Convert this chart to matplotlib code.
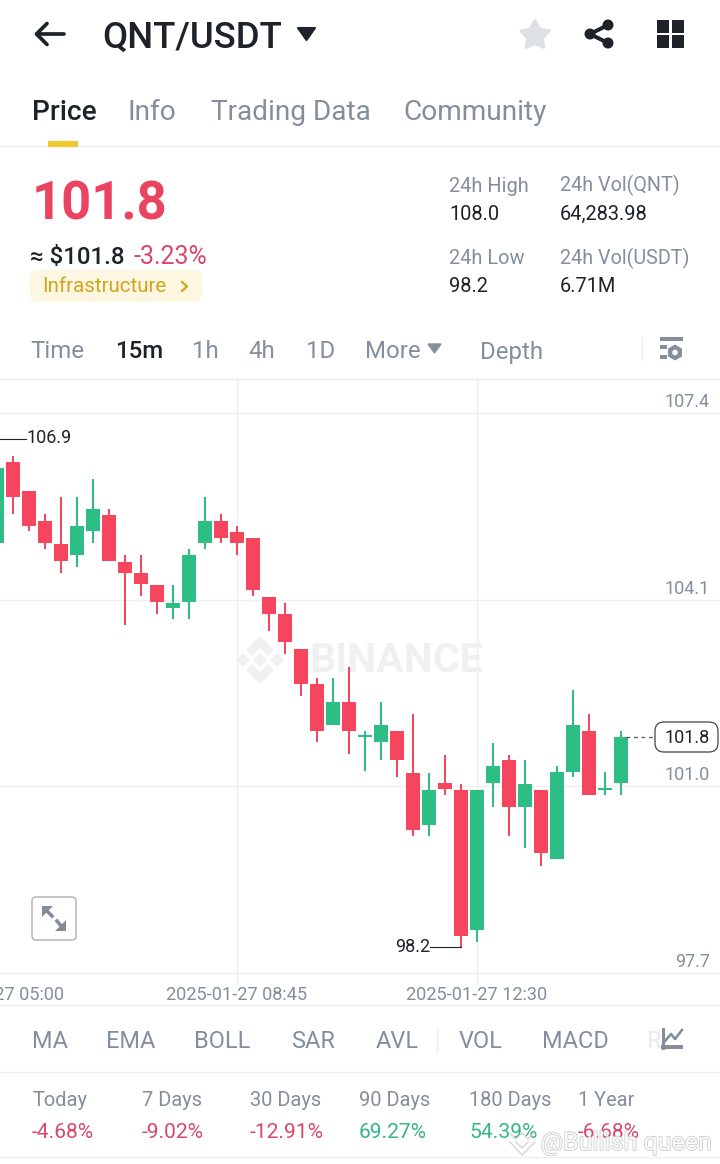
#!/usr/bin/env python3
"""QNT/USDT 15m candlestick screen, rebuilt in matplotlib."""

import matplotlib
matplotlib.use('Agg')
import matplotlib.patheffects as pe
import matplotlib.pyplot as plt
import numpy as np
from matplotlib.patches import Circle, FancyBboxPatch, Polygon, Rectangle, RegularPolygon

plt.rcParams['font.family'] = ['Roboto', 'DejaVu Sans']

# candles, oldest first (the first one is cut by the left edge)
opens = [105.15, 106.55, 106.05, 105.54, 105.13, 104.94, 105.35, 105.64, 104.83, 104.63,
         104.43, 104.03, 104.13, 105.15, 105.54, 105.34, 105.24, 104.22, 103.92, 103.32,
         102.71, 102.01, 102.40, 101.80, 101.70, 101.90, 101.18, 100.28, 100.99, 100.88,
         98.46, 100.99, 101.39, 100.59, 100.88, 99.68, 101.19, 101.90, 100.88, 100.99]
closes = [106.45, 105.95, 105.45, 105.15, 104.84, 105.44, 105.74, 104.84, 104.64, 104.44,
          104.13, 104.12, 104.94, 105.54, 105.24, 105.15, 104.34, 103.93, 103.44, 102.71,
          101.90, 102.40, 101.90, 101.83, 102.00, 101.40, 100.19, 100.88, 100.89, 98.36,
          100.88, 101.29, 100.59, 100.98, 99.78, 101.19, 102.00, 100.79, 100.91, 101.79]
highs = [106.45, 106.66, 106.05, 105.65, 105.95, 105.95, 106.25, 105.74, 104.94, 104.94,
         104.43, 104.43, 105.04, 105.95, 105.65, 105.45, 105.24, 104.22, 104.12, 103.32,
         102.81, 102.81, 103.01, 101.90, 102.40, 101.90, 102.20, 101.18, 101.49, 100.98,
         100.88, 101.69, 101.49, 101.39, 100.88, 101.29, 102.60, 102.20, 101.19, 101.90]
lows = [105.15, 105.65, 105.35, 105.04, 104.64, 104.74, 105.15, 104.84, 103.73, 104.23,
        103.93, 103.83, 103.83, 105.04, 105.15, 104.94, 104.23, 103.63, 103.23, 102.51,
        101.70, 102.01, 101.50, 101.20, 101.40, 101.10, 100.08, 100.08, 100.79, 98.16,
        98.25, 100.58, 100.08, 99.88, 99.57, 99.68, 101.10, 100.79, 100.79, 100.79]

price_ticks = [107.4, 104.1, 101.0, 97.7]
grid_prices = [107.4, 104.17, 100.95, 97.72]
time_positions = [-1, 14, 29]
time_labels = ['2025-01-27 05:00', '2025-01-27 08:45', '2025-01-27 12:30']
last_price = 101.8
high_mark = 106.95
low_mark = 98.16

tabs = ['Price', 'Info', 'Trading Data', 'Community']
intervals = ['Time', '15m', '1h', '4h', '1D', 'More', 'Depth']
indicators = ['MA', 'EMA', 'BOLL', 'SAR', 'AVL', 'VOL', 'MACD']
periods = ['Today', '7 Days', '30 Days', '90 Days', '180 Days', '1 Year']
period_changes = ['-4.68%', '-9.02%', '-12.91%', '69.27%', '54.39%', '-6.68%']

RED = '#F6465D'
GREEN = '#2EBD85'
SOFT_RED = '#D9486A'
SOFT_GREEN = '#35B58A'
DARK = '#1E2329'
GRAY = '#848E9C'
LINE = '#EEEFF2'
WATERMARK = '#EEF0F1'
PX = 0.72  # points per pixel at dpi 100

W, H = 720, 1164
fig = plt.figure(figsize=(W / 100, H / 100), dpi=100, facecolor='white')

# chart axes: y 380..1005 px, one candle every 16 px with candle 0 at x=12.7
ax = fig.add_axes([0, 1 - 1005 / H, 1, (1005 - 380) / H])
ax.set_xlim(-12.7 / 16, (W - 12.7) / 16)
ax.set_ylim(107.4 - (1005 - 413) / 57.8, 107.4 + (413 - 380) / 57.8)
for s in ax.spines.values():
    s.set_visible(False)
ax.set_xticks([])
ax.set_yticks([])

# page overlay in pixel coordinates
ui = fig.add_axes([0, 0, 1, 1], zorder=5)
ui.set_xlim(0, W)
ui.set_ylim(H, 0)
ui.axis('off')
ui.patch.set_alpha(0)


def label(x, y, s, px, color=GRAY, weight='normal', ha='left', **kw):
    ui.text(x, y + 3, s, fontsize=px * PX, color=color, fontweight=weight,
            ha=ha, va='center', **kw)


# grid
for p in grid_prices:
    ax.axhline(p, color=LINE, lw=1, zorder=1)
for t in time_positions[1:]:
    ax.plot([t, t], [97.16 + 0.38, 108], color=LINE, lw=1, zorder=1)

# watermark sits under the candles, so it goes in the chart axes
ax.text(396, 661, 'BINANCE', fontsize=41 * PX, color=WATERMARK, fontweight='bold',
        ha='center', va='center', zorder=2, transform=ui.transData)
for pts in [[(260, 636), (274, 650), (268, 656), (260, 648), (252, 656), (246, 650)],
            [(260, 684), (274, 670), (268, 664), (260, 672), (252, 664), (246, 670)],
            [(260, 653), (267, 660), (260, 667), (253, 660)],
            [(243, 653), (250, 660), (243, 667), (236, 660)],
            [(277, 653), (284, 660), (277, 667), (270, 660)]]:
    ax.add_patch(Polygon(pts, closed=True, fc=WATERMARK, ec='none', zorder=2,
                         transform=ui.transData))

# candles
xs = np.arange(-1, len(opens) - 1)
o = np.array(opens)
c = np.array(closes)
colors = [GREEN if b >= a else RED for a, b in zip(o, c)]
ax.vlines(xs, lows, highs, colors=colors, lw=2 * PX, zorder=3)
ax.bar(xs, np.abs(c - o), bottom=np.minimum(o, c), width=0.86, color=colors, zorder=4)

# price axis labels sit just above their gridlines
for p, g in zip(price_ticks, grid_prices):
    ax.annotate(f'{p:.1f}', xy=(1, g), xycoords=('axes fraction', 'data'),
                xytext=(-10 * PX, 10.5 * PX), textcoords='offset points',
                ha='right', va='center', fontsize=18 * PX, color=GRAY)

# high / low / last markers
ax.plot([-0.8, 0.83], [high_mark, high_mark], color='#222222', lw=0.8, zorder=5)
ax.annotate('106.9', xy=(0.83, high_mark), xytext=(0.5 * PX, 0.5), textcoords='offset points',
            ha='left', va='center', fontsize=18 * PX, color=DARK)
ax.plot([26.1, 28], [low_mark, low_mark], color='#222222', lw=0.8, zorder=5)
ax.annotate('98.2', xy=(26.1, low_mark), xytext=(0, 0), textcoords='offset points',
            ha='right', va='center', fontsize=18 * PX, color=DARK)
ax.plot([38.3, 40], [last_price, last_price], color='#555555', lw=0.9, ls=(0, (3, 3)), zorder=5)
ui.add_patch(FancyBboxPatch((659, 726), 55, 22, boxstyle='round,pad=4,rounding_size=9',
                            fc='white', ec='#444444', lw=0.9))
label(687, 735, f'{last_price:.1f}', 18, color=DARK, ha='center')

# time labels
for t, s in zip(time_positions, time_labels):
    ax.annotate(s, xy=(t, 0), xycoords=('data', 'axes fraction'),
                xytext=(-3.5 * PX if t < 0 else 0, 9.5 * PX), textcoords='offset points',
                ha='center', va='center', fontsize=18.2 * PX, color=GRAY, annotation_clip=False)

# section rules
for y in [146, 379, 1005, 1072, 1157]:
    ui.plot([0, W], [y, y], color=LINE, lw=1)

# header
ui.plot([37, 64], [34, 34], color=DARK, lw=3.7 * PX, solid_capstyle='round')
ui.plot([47, 36.5, 47], [23.5, 34, 44.5], color=DARK, lw=3.7 * PX,
        solid_capstyle='round', solid_joinstyle='round')
label(102, 35, 'QNT/USDT', 36.5, color=DARK, weight='medium')
ui.add_patch(Polygon([(298, 28), (315, 28), (306.5, 40)], closed=True, fc=DARK, ec=DARK, lw=1.5,
                     joinstyle='round'))
star_a = np.deg2rad(np.arange(10) * 36 - 90)
star_r = np.where(np.arange(10) % 2 == 0, 14.5, 7.5)
ui.add_patch(Polygon(np.c_[535 + star_r * np.cos(star_a), 35.5 + star_r * np.sin(star_a)],
                     closed=True, fc='#DDE0E4', ec='#DDE0E4', lw=2.5, joinstyle='round'))
ui.plot([608, 590, 608], [25, 34, 43], color=DARK, lw=4 * PX)
for cx, cy in [(608, 25), (590, 34), (608, 43)]:
    ui.add_patch(Circle((cx, cy), 5.5, fc=DARK, ec='none'))
for gx, gy in [(657, 20), (672, 20), (657, 35), (672, 35)]:
    ui.add_patch(Rectangle((gx, gy), 11.5, 12.5, fc=DARK, ec='none'))

# tabs
for s, x, col in zip(tabs, [32, 127, 211, 403], [DARK, GRAY, GRAY, GRAY]):
    label(x, 109.5, s, 28, color=col, weight='medium' if col == DARK else 'normal')
ui.add_patch(Rectangle((48, 141), 30, 5.5, fc='#F0C92C', ec='none', zorder=3))

# price block
label(32, 202, '101.8', 52.5, color='#EA4460', weight='bold')
label(30, 254, '≈ $101.8', 24, color=DARK, weight='medium')
label(133, 254, '-3.23%', 25, color=SOFT_RED)
ui.add_patch(FancyBboxPatch((34, 274), 164, 24, boxstyle='round,pad=4,rounding_size=8',
                            fc='#FDF6E1', ec='none'))
label(42, 284, 'Infrastructure', 20.5, color='#D3A51E')
ui.plot([182, 187, 182], [282, 286.5, 291], color='#D3A51E', lw=2.2 * PX)

# 24h stats
label(449, 184, '24h High', 20)
label(449, 212, '108.0', 20, color=DARK)
label(449, 256, '24h Low', 20)
label(449, 284, '98.2', 20, color=DARK)
label(560, 182, '24h Vol(QNT)', 19.8)
label(560, 211, '64,283.98', 20, color=DARK)
label(560, 255, '24h Vol(USDT)', 19.8)
label(560, 283, '6.71M', 20, color=DARK)

# interval row
for s, x in zip(intervals, [30, 115, 192, 248, 306, 365, 480]):
    label(x, 349, s, 24, color=DARK if s == '15m' else GRAY, weight='medium' if s == '15m' else 'normal')
ui.add_patch(Polygon([(428, 344), (441, 344), (434.5, 353)], closed=True, fc=GRAY, ec=GRAY, lw=1))
ui.plot([642, 642], [337, 360], color=LINE, lw=1)
ui.add_patch(Rectangle((660, 337), 23, 3.5, fc=GRAY, ec='none'))
ui.add_patch(Rectangle((660, 345), 7, 3.5, fc=GRAY, ec='none'))
ui.add_patch(Rectangle((660, 355), 7, 3.5, fc=GRAY, ec='none'))
ui.add_patch(RegularPolygon((675, 352.5), 6, radius=8, fc=GRAY, ec='none'))
ui.add_patch(Circle((675, 352.5), 2.8, fc='white', ec='none'))

# expand button
ui.add_patch(FancyBboxPatch((34, 899), 40, 39, boxstyle='round,pad=2,rounding_size=4',
                            fc='white', ec='#A9AFB8', lw=1))
ui.plot([46, 52], [910, 916], color='#858C97', lw=3.5 * PX)
ui.plot([57, 62], [921, 927], color='#858C97', lw=3.5 * PX)
ui.add_patch(Polygon([(42, 906), (53, 906), (42, 917)], closed=True, fc='#858C97', ec='none'))
ui.add_patch(Polygon([(66, 931), (55, 931), (66, 920)], closed=True, fc='#858C97', ec='none'))

# indicator row
for s, x in zip(indicators, [32, 106, 194, 291, 376, 459, 542]):
    label(x, 1039, s, 23.5)
label(647, 1039, 'R', 23.5, color='#E8EAED')
ui.plot([437, 437], [1028, 1052], color=LINE, lw=1)
ui.plot([663, 663], [1029, 1048], color=GRAY, lw=3 * PX)
ui.plot([665, 671, 675, 682], [1041, 1034, 1039, 1030], color=GRAY, lw=2.6 * PX)
ui.add_patch(Rectangle((661, 1045), 22, 4, fc=GRAY, ec='none'))

# period performance
for s, v, x in zip(periods, period_changes, [33, 142, 250, 359, 469, 578]):
    label(x, 1098, s, 20)
    up = not v.startswith('-')
    label(x - 1 if x == 33 else x, 1130, v, 21, color=SOFT_GREEN if up else SOFT_RED)

# poster watermark, outlined glyphs over the last row
ui.text(626, 1143, '@Bullish queen', fontsize=25 * PX, color='white', ha='center',
        va='center', zorder=6, alpha=0.9,
        path_effects=[pe.withStroke(linewidth=1.1, foreground='#C2C5CA')])
ui.plot([510, 516, 522, 528, 534], [1133, 1139, 1133, 1139, 1133], color='#CFD2D6', lw=0.9, zorder=6)
ui.plot([510, 522, 535], [1142, 1155, 1142], color='#CFD2D6', lw=0.9, zorder=6)
ui.plot([516, 522, 528], [1142, 1148, 1142], color='#CFD2D6', lw=0.9, zorder=6)

fig.savefig('out.png', dpi=100, facecolor='white')
